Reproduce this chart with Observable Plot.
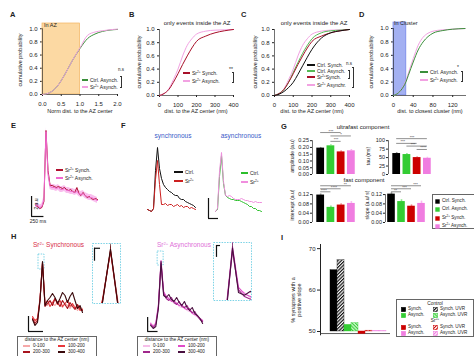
<!DOCTYPE html>
<html><head><meta charset="utf-8">
<script src="https://cdn.jsdelivr.net/npm/d3@7"></script>
<script src="https://cdn.jsdelivr.net/npm/@observablehq/plot@0.6"></script>
<style>
html,body{margin:0;padding:0;background:#fff;}
#root{position:relative;width:474px;height:356px;overflow:hidden;background:#fff;font-family:"Liberation Sans",Arial,Helvetica,sans-serif;color:#222;}
.t{position:absolute;white-space:nowrap;line-height:1;}
sup{font-size:0.65em;vertical-align:0.45em;line-height:0;}
.box{position:absolute;border:0.8px solid #666;box-sizing:border-box;background:#fff;}
</style></head><body>
<svg width="0" height="0" style="position:absolute">
<defs>
<pattern id="hatchK" patternUnits="userSpaceOnUse" width="2.4" height="2.4" patternTransform="rotate(45)"><rect width="2.4" height="2.4" fill="#fff"/><rect width="1.2" height="2.4" fill="#111"/></pattern>
<pattern id="hatchG" patternUnits="userSpaceOnUse" width="2.4" height="2.4" patternTransform="rotate(-45)"><rect width="2.4" height="2.4" fill="#c8f5c8"/><rect width="1.0" height="2.4" fill="#33cc33"/></pattern>
<pattern id="hatchR" patternUnits="userSpaceOnUse" width="2.4" height="2.4" patternTransform="rotate(45)"><rect width="2.4" height="2.4" fill="#fff"/><rect width="1.0" height="2.4" fill="#cc0000"/></pattern>
<pattern id="hatchP" patternUnits="userSpaceOnUse" width="2.4" height="2.4" patternTransform="rotate(45)"><rect width="2.4" height="2.4" fill="#fde3f7"/><rect width="1.0" height="2.4" fill="#f07de0"/></pattern>
</defs></svg>
<div id="root"></div>
<script>
// ---------------- DATA ----------------
// A: cumulative probability vs normalized distance to AZ center
const distA = [0, 0.2, 0.4, 0.6, 0.8, 1.0, 1.2, 1.4, 1.6, 1.8, 2.0];
const ctrlAsyncA = [0, 0.03, 0.13, 0.31, 0.52, 0.70, 0.85, 0.92, 0.96, 0.98, 0.99];
const srAsyncA = [0, 0.03, 0.13, 0.31, 0.52, 0.71, 0.90, 0.95, 0.97, 0.985, 0.995];
const azZoneA = [0, 1];
// B, C: only events inside the AZ (nm)
const distBC = [0, 25, 50, 75, 100, 125, 150, 175, 200, 250, 300, 350, 400];
const srSynchBC = [0, 0.03, 0.09, 0.20, 0.33, 0.47, 0.60, 0.72, 0.82, 0.90, 0.95, 0.98, 1.0];
const srAsyncBC = [0, 0.03, 0.10, 0.24, 0.40, 0.60, 0.76, 0.86, 0.93, 0.975, 0.99, 0.995, 1.0];
const ctrlSynchC = [0, 0.02, 0.06, 0.12, 0.20, 0.32, 0.45, 0.58, 0.70, 0.87, 0.95, 0.98, 1.0];
const ctrlAsyncC = [0, 0.03, 0.09, 0.20, 0.35, 0.50, 0.64, 0.76, 0.86, 0.95, 0.98, 0.99, 1.0];
// D: distance to closest cluster (nm)
const distD = [0, 10, 20, 25, 30, 40, 50, 60, 70, 80, 100, 120, 145];
const ctrlAsyncD = [0, 0.04, 0.13, 0.20, 0.30, 0.50, 0.68, 0.80, 0.88, 0.93, 0.97, 0.99, 1.0];
const srAsyncD = [0, 0.04, 0.14, 0.22, 0.33, 0.55, 0.75, 0.87, 0.93, 0.96, 0.98, 0.99, 1.0];
const clusterZoneD = [0, 26];
// E: average traces (a.u.)
const srSynchE = [0.0, -0.1, -0.3, -0.2, 0.4, 7.5, 3.5, 2.0, 2.0, 1.9, 1.8, 1.9, 1.8, 1.7, 1.8, 1.6, 1.5, 1.6, 1.4, 1.3, 1.8, 1.2, 1.0, 1.3, 1.0, 0.8, 0.9, 0.7, 0.6, 0.7, 0.6];
const srAsyncE = [0.0, 0.0, -0.2, -0.1, 0.6, 7.4, 3.2, 1.9, 1.8, 1.8, 1.7, 1.8, 1.6, 1.6, 1.7, 1.5, 1.5, 1.4, 1.4, 1.3, 1.4, 1.2, 1.1, 1.2, 1.0, 0.9, 0.8, 0.8, 0.7, 0.6, 0.5];
const semE = [0.25, 0.25, 0.25, 0.25, 0.3, 0.4, 0.35, 0.3, 0.3, 0.3, 0.3, 0.3, 0.3, 0.3, 0.3, 0.3, 0.3, 0.3, 0.3, 0.3, 0.3, 0.3, 0.3, 0.3, 0.3, 0.3, 0.3, 0.3, 0.3, 0.3, 0.3];
// F: synchronous / asynchronous traces
const ctrlSynchF = [0.0, -0.1, -0.2, 0.1, 3.9, 6.2, 4.1, 3.1, 2.5, 2.2, 2.0, 1.8, 1.7, 1.5, 1.4, 1.4, 1.1, 1.0, 1.0, 0.8, 0.7, 0.6, 0.5, 0.4, 0.2];
const srSynchF = [0.0, -0.1, -0.2, 0.1, 3.0, 4.9, 2.5, 0.5, 0.5, 0.6, 0.4, 0.5, 0.5, 0.3, 0.4, 0.5, 0.3, 0.4, 0.2, 0.3, 0.3, 0.1, 0.2, 0.1, 0.0];
const ctrlAsyncF = [0.0, 0.2, 3.5, 5.6, 2.8, 1.6, 1.4, 1.3, 1.2, 1.2, 1.1, 1.1, 1.1, 1.0, 0.9, 0.8, 0.7, 0.5, 0.5, 0.3, 0.3, 0.1, 0.1, 0.0];
const srAsyncF = [0.0, 0.3, 4.0, 5.9, 3.0, 1.6, 1.5, 1.6, 1.5, 1.3, 1.2, 1.2, 1.2, 1.3, 1.2, 1.1, 1.1, 1.0, 1.0, 0.9, 1.0, 0.9, 0.9, 0.9];
// G: bar values
const groupsG = ["Ctrl. Synch.", "Ctrl. Asynch.", "Sr2+ Synch.", "Sr2+ Asynch."];
const amplitudeG = [0.195, 0.212, 0.167, 0.175];
const amplitudeErr = [0.005, 0.007, 0.006, 0.010];
const tauG = [62, 59, 50, 48];
const tauErr = [2, 3, 2, 3];
const interceptG = [0.118, 0.065, 0.075, 0.082];
const interceptErr = [0.004, 0.006, 0.005, 0.008];
const slopeG = [0.122, 0.090, 0.070, 0.082];
const slopeErr = [0.005, 0.008, 0.005, 0.010];
// significance brackets: a, b = compared groups, y = level, tx = label position (group units)
const sigAmp = [{a: 1, b: 3, y: 0.31, s: "***", tx: 2}, {a: 2, b: 4, y: 0.285, s: "*", tx: 3}, {a: 2, b: 3, y: 0.245, s: "***", tx: 2.5}];
const sigTau = [{a: 1, b: 4, y: 106, s: "***", tx: 2.5}, {a: 1, b: 3, y: 92, s: "***", tx: 1.6}, {a: 2, b: 4, y: 84, s: "***", tx: 2.6}, {a: 3, b: 4, y: 74, s: "****", tx: 3.6}];
const sigIntercept = [{a: 1, b: 4, y: 0.158, s: "**", tx: 3.4}, {a: 1, b: 3, y: 0.145, s: "****", tx: 2.3}, {a: 1, b: 2, y: 0.132, s: "****", tx: 1.3}];
const sigSlope = [{a: 1, b: 4, y: 0.158, s: "***", tx: 3.4}, {a: 1, b: 3, y: 0.145, s: "***", tx: 2.3}, {a: 1, b: 2, y: 0.132, s: "**", tx: 1.4}];
// H: traces by distance to the AZ center
const binsH = ["0-100", "100-200", "200-300", "300-400"];
const hSynch = [
  [0.3, -0.1, 0.1, 2.1, 5.8, 1.8, 1.5, 1.9, 1.7, 1.5, 1.9, 1.6, 1.3, 1.7, 1.5, 1.2, 1.6, 1.4, 1.0, 1.3, 1.2],
  [0.4, 0.0, 0.2, 2.2, 5.7, 1.6, 2.0, 1.4, 1.8, 2.2, 1.6, 2.0, 1.4, 1.7, 2.0, 1.4, 1.7, 1.2, 1.5, 1.0, 1.1],
  [0.2, -0.3, 0.0, 2.0, 5.8, 1.4, 1.7, 2.0, 1.5, 2.2, 1.8, 1.4, 2.0, 1.6, 1.2, 1.8, 1.4, 1.1, 1.6, 1.2, 1.0],
  [0.1, -0.5, -0.2, 2.0, 5.9, 1.5, 2.0, 2.3, 2.7, 2.3, 1.7, 2.2, 2.8, 2.5, 1.8, 2.4, 2.8, 2.0, 1.2, 1.5, 0.8]
];
const hAsynch = [
  [0.1, -0.2, 0.1, 2.0, 5.9, 3.0, 2.8, 2.4, 2.3, 2.0, 2.1, 1.7, 1.6, 1.7, 1.3, 1.2, 1.1, 0.8, 0.7, 0.4, 0.3],
  [0.0, -0.3, 0.0, 1.8, 6.3, 3.2, 2.7, 2.5, 2.2, 2.3, 2.0, 1.8, 1.9, 1.5, 1.4, 1.5, 1.0, 0.9, 0.8, 0.5, 0.3],
  [-0.1, -0.4, -0.1, 1.7, 6.0, 3.0, 2.5, 2.3, 2.6, 2.1, 1.9, 2.2, 1.7, 1.6, 1.8, 1.3, 1.1, 1.2, 0.7, 0.4, 0.2],
  [-0.2, -0.5, -0.3, 1.5, 6.2, 2.8, 2.6, 2.9, 2.4, 2.2, 2.6, 2.1, 1.8, 2.2, 1.6, 1.3, 1.6, 1.0, 0.8, 0.5, 0.0]
];
const peakErrH = [0.35, 0.3, 0.3, 0.35];
// I: % synapses with a positive slope
const categoriesI = ["Ctrl Synch.", "Ctrl Synch. UVR", "Ctrl Asynch.", "Ctrl Asynch. UVR", "Sr Synch.", "Sr Synch. UVR", "Sr Asynch.", "Sr Asynch. UVR"];
const valuesI = [64.8, 67.2, 51.6, 52.0, 49.4, 50.2, 50.1, 50.1];
// tick labels
const ticksProb = [0, 0.2, 0.4, 0.6, 0.8, 1.0];
const ticksA = [0, 0.5, 1.0, 1.5, 2.0];
const ticksBC = [0, 100, 200, 300, 400];
const ticksD = [0, 40, 80, 120];
const ticksAmp = [0, 0.05, 0.10, 0.15, 0.20, 0.25];
const ticksTau = [0, 25, 50, 75, 100];
const ticksFast = [0, 0.04, 0.08, 0.12];
const ticksI = [50, 60, 70];

// ---------------- STYLES ----------------
const FONT = '"Liberation Sans", Arial, Helvetica, sans-serif';
const C = {black: "#111111", green: "#3a8f3a", greenC: "#55bb55", pink: "#f2a2e2", red: "#a8102a",
  redF: "#cc2020", greenF: "#2cbf2c", pinkF: "#f08ede", redE: "#b01030", pinkE: "#f06ad0", bandE: "#f8b8ec",
  blueTitle: "#3a5bc8"};
const fillsG = ["#000000", "#33cc33", "#cc0000", "#f07de0"];
const errG = ["#666666", "#8ee88e", "#ee6060", "#f8b8f0"];
const colorsHSynch = ["#f6a9a9", "#e8383c", "#a8141e", "#3a0a0c"];
const colorsHAsynch = ["#f6bfe9", "#e04cc8", "#a0288c", "#4a1040"];
const fillsI = ["#000000", "url(#hatchK)", "#33cc33", "url(#hatchG)", "#cc0000", "url(#hatchR)", "#f07de0", "url(#hatchP)"];
const strokesI = ["#000000", "#222222", "#33cc33", "#33cc33", "#cc0000", "#cc0000", "#f07de0", "#f07de0"];

const root = document.getElementById("root");

function mk(opts, left, top, fs = 6) {
  const svg = Plot.plot({...opts, style: {background: "none", fontSize: fs + "px", fontFamily: FONT, color: "#222", overflow: "visible"}});
  svg.style.position = "absolute";
  svg.style.left = left + "px";
  svg.style.top = top + "px";
  root.appendChild(svg);
  return svg;
}
function T(html, x, y, o = {}) {
  const d = document.createElement("div");
  d.className = "t";
  d.innerHTML = html;
  d.style.fontSize = (o.size ?? 6) + "px";
  d.style.color = o.color ?? "#222";
  if (o.bold) d.style.fontWeight = "bold";
  d.style.left = x + "px";
  d.style.top = y + "px";
  const ax = o.anchor === "middle" ? "-50%" : o.anchor === "end" ? "-100%" : "0";
  d.style.transform = `translate(${ax}, -50%)` + (o.rotate ? ` rotate(${o.rotate}deg)` : "");
  if (o.align) d.style.textAlign = o.align;
  root.appendChild(d);
}
function L(x1, x2, y, color, w = 1.2) {
  const d = document.createElement("div");
  Object.assign(d.style, {position: "absolute", left: x1 + "px", top: (y - w / 2) + "px", width: (x2 - x1) + "px", height: w + "px", background: color});
  root.appendChild(d);
}
function BR(x, y1, y2) {
  const d = document.createElement("div");
  Object.assign(d.style, {position: "absolute", left: (x - 2) + "px", top: y1 + "px", width: "2px", height: (y2 - y1) + "px",
    border: "0.7px solid #333", borderLeft: "none", boxSizing: "border-box"});
  root.appendChild(d);
}
function BOX(x, y, w, h) {
  const d = document.createElement("div");
  d.className = "box";
  Object.assign(d.style, {left: x + "px", top: y + "px", width: w + "px", height: h + "px"});
  root.appendChild(d);
}
function SQ(x, y, s, fill, stroke) {
  const d = document.createElement("div");
  Object.assign(d.style, {position: "absolute", left: x + "px", top: (y - s / 2) + "px", width: s + "px", height: s + "px", lineHeight: 0});
  d.innerHTML = `<svg width="${s}" height="${s}"><rect x="0.3" y="0.3" width="${s - 0.6}" height="${s - 0.6}" fill="${fill}" stroke="${stroke || "none"}" stroke-width="0.5"/></svg>`;
  root.appendChild(d);
}
const pts = (xs, ys) => xs.map((x, i) => ({x, y: ys[i]}));
const ser = (vals) => vals.map((v, i) => ({i, v}));
const SR = "Sr<sup>2+</sup>";

// ---------------- CDF PANELS ----------------
function cdf({left, top, width, height, mL, mR, mT, mB, xDomain, yDomain, xTicks, xFmt, zone, zoneFill, zoneStroke, curves}) {
  const marks = [];
  if (zone) marks.push(Plot.rect([zone], {x1: d => d[0], x2: d => d[1], fill: zoneFill, stroke: zoneStroke, strokeWidth: 0.7}));
  marks.push(Plot.ruleY([0], {stroke: "#333", strokeWidth: 0.7}));
  marks.push(Plot.ruleX([0], {y1: 0, y2: 1, stroke: "#333", strokeWidth: 0.7}));
  for (const c of curves) marks.push(Plot.line(pts(c.x, c.y), {x: "x", y: "y", stroke: c.color, strokeWidth: 1, curve: "monotone-x"}));
  return mk({
    width, height, marginLeft: mL, marginRight: mR, marginTop: mT, marginBottom: mB,
    x: {domain: xDomain, ticks: xTicks, tickFormat: xFmt, tickSize: 2, tickPadding: 5, label: null},
    y: {domain: yDomain, ticks: ticksProb, tickFormat: ".1f", tickSize: 2, tickPadding: 3, label: null},
    marks
  }, left, top);
}

cdf({left: 0, top: 10, width: 124, height: 108, mL: 42, mR: 7, mT: 13, mB: 24, xDomain: [0, 2], yDomain: [0, 1.08],
  xTicks: ticksA, xFmt: ".1f", zone: azZoneA, zoneFill: "#fcd9a3", zoneStroke: "#f2b45e",
  curves: [{x: distA, y: ctrlAsyncA, color: C.green}, {x: distA, y: srAsyncA, color: C.pink}]});
cdf({left: 125, top: 20, width: 112, height: 100, mL: 34, mR: 4, mT: 9, mB: 25, xDomain: [0, 400], yDomain: [0, 1],
  xTicks: ticksBC, xFmt: "d",
  curves: [{x: distBC, y: srAsyncBC, color: C.pink}, {x: distBC, y: srSynchBC, color: C.red}]});
cdf({left: 240, top: 20, width: 112, height: 100, mL: 34, mR: 3, mT: 9, mB: 25, xDomain: [0, 400], yDomain: [0, 1],
  xTicks: ticksBC, xFmt: "d",
  curves: [{x: distBC, y: srAsyncBC, color: C.pink}, {x: distBC, y: ctrlAsyncC, color: C.greenC},
           {x: distBC, y: srSynchBC, color: C.red}, {x: distBC, y: ctrlSynchC, color: C.black}]});
cdf({left: 358, top: 20, width: 114, height: 100, mL: 35, mR: 6, mT: 2, mB: 25, xDomain: [0, 148], yDomain: [0, 1.09],
  xTicks: ticksD, xFmt: "d", zone: clusterZoneD, zoneFill: "#a3b0f2", zoneStroke: "#6d7fe6",
  curves: [{x: distD, y: srAsyncD, color: C.pink}, {x: distD, y: ctrlAsyncD, color: C.green}]});

// Panel texts A-D
T("A", 10, 15, {size: 7.5, bold: true}); T("B", 129, 15, {size: 7.5, bold: true});
T("C", 241, 15, {size: 7.5, bold: true}); T("D", 359, 15, {size: 7.5, bold: true});
T("In AZ", 44, 26, {size: 5.5});
T("cumulative probability", 21, 60, {size: 5.5, anchor: "middle", rotate: -90});
T("Norm dist. to the AZ center", 80, 112, {size: 5.5, anchor: "middle"});
L(82, 88, 80, C.green); T("Ctrl. Asynch.", 90, 80, {size: 5});
L(82, 88, 87, C.pink); T(SR + " Asynch.", 90, 87, {size: 5});
T("n.s", 118, 70, {size: 4.5}); BR(122, 76, 88);

T("only events inside the AZ", 197, 23, {size: 6, anchor: "middle"});
T("cumulative probability", 140, 62, {size: 5.5, anchor: "middle", rotate: -90});
T("dist. to the AZ center (nm)", 196, 112, {size: 5.5, anchor: "middle"});
L(183, 190, 73, C.red); T(SR + " Synch.", 192, 73, {size: 5});
L(183, 190, 81, C.pink); T(SR + " Asynch.", 192, 81, {size: 5});
T("**", 229, 69, {size: 5}); BR(234, 72, 83);

T("only events inside the AZ", 314, 23, {size: 6, anchor: "middle"});
T("cumulative probability", 256, 62, {size: 5.5, anchor: "middle", rotate: -90});
T("dist. to the AZ center (nm)", 312, 112, {size: 5.5, anchor: "middle"});
L(307, 315, 65, C.black); T("Ctrl. Synch.", 317, 65, {size: 5});
L(307, 315, 71, C.greenC); T("Ctrl. Asynch.", 317, 71, {size: 5});
L(307, 315, 77, C.red); T(SR + "Synch.", 317, 77, {size: 5});
L(307, 315, 85, C.pink); T(SR + " Asynchr.", 317, 85, {size: 5});
T("n.s", 346, 64, {size: 4.5}); BR(350, 70, 79); BR(354, 67, 88);

T("In Cluster", 394, 24, {size: 5.5});
T("cumulative probability", 372, 62, {size: 5.5, anchor: "middle", rotate: -90});
T("dist. to closest cluster (nm)", 430, 112, {size: 5.5, anchor: "middle"});
L(420, 428, 72, C.green); T("Ctrl. Asynch.", 430, 72, {size: 5});
L(420, 428, 80, C.pink); T(SR + " Asynch.", 430, 80, {size: 5});
T("*", 457, 67, {size: 5}); BR(463, 71, 82);

// ---------------- E ----------------
const eSynch = ser(srSynchE), eAsync = srAsyncE.map((v, i) => ({i, v, e: semE[i]}));
mk({width: 68, height: 100, margin: 0, x: {domain: [-3, 30], axis: null}, y: {domain: [-1.5, 8.5], axis: null},
  marks: [
    Plot.areaY(eAsync, {x: "i", y1: d => d.v - d.e, y2: d => d.v + d.e, fill: C.bandE, fillOpacity: 0.9}),
    Plot.line(eSynch, {x: "i", y: "v", stroke: C.redE, strokeWidth: 1}),
    Plot.line(eAsync, {x: "i", y: "v", stroke: C.pinkE, strokeWidth: 1}),
    Plot.ruleX([-2], {y1: -1.1, y2: 0.9, stroke: "#111", strokeWidth: 1.2}),
    Plot.ruleY([-1.1], {x1: -2, x2: 4, stroke: "#111", strokeWidth: 1.2})
  ]}, 29, 120);
T("E", 11, 126, {size: 7.5, bold: true});
L(56, 63, 170, C.redE); T(SR + " Synch.", 65, 170, {size: 5});
L(56, 63, 178, C.pinkE, 2); T(SR + " Asynch.", 65, 178, {size: 5});
T("2 a.u", 35.5, 204, {size: 5, anchor: "middle", rotate: -90});
T("250 ms", 38, 221, {size: 5, anchor: "middle"});

// ---------------- F ----------------
mk({width: 48, height: 80, margin: 0, x: {domain: [0, 24], axis: null}, y: {domain: [-1.1, 6.9], axis: null},
  marks: [
    Plot.line(ser(ctrlSynchF), {x: "i", y: "v", stroke: C.black, strokeWidth: 1}),
    Plot.line(ser(srSynchF), {x: "i", y: "v", stroke: C.redF, strokeWidth: 1})
  ]}, 147, 140);
mk({width: 54, height: 82, margin: 0, x: {domain: [-4, 23], axis: null}, y: {domain: [-1.1, 7.1], axis: null},
  marks: [
    Plot.line(ser(ctrlAsyncF), {x: "i", y: "v", stroke: C.greenF, strokeWidth: 1}),
    Plot.line(ser(srAsyncF), {x: "i", y: "v", stroke: C.pinkF, strokeWidth: 1}),
    Plot.ruleX([-3.5], {y1: -0.7, y2: 1.3, stroke: "#111", strokeWidth: 1.2}),
    Plot.ruleY([-0.7], {x1: -3.5, x2: 1.5, stroke: "#111", strokeWidth: 1.2})
  ]}, 207, 140);
T("F", 121, 126, {size: 7.5, bold: true});
T("synchronous", 173, 136, {size: 6.5, anchor: "middle", color: C.blueTitle});
T("asynchronous", 241, 136, {size: 6.5, anchor: "middle", color: C.blueTitle});
L(174, 183, 172, C.black); T("Ctrl.", 185, 172, {size: 5});
L(174, 183, 181, C.redF); T(SR, 185, 181, {size: 5});
L(241, 248, 173, C.greenF); T("Ctrl.", 250, 173, {size: 5});
L(241, 248, 182, C.pinkF); T(SR, 250, 182, {size: 5});

// ---------------- G ----------------
function bars({left, top, width, height, mL, mR, mT, mB, xDomain, yDomain, ticks, fmt, values, errs, sig}) {
  const rows = values.map((v, k) => ({i: k + 1, v, e: errs[k], k}));
  const marks = [Plot.ruleX([xDomain[0]], {y1: ticks[0], y2: ticks[ticks.length - 1], stroke: "#333", strokeWidth: 0.7})];
  rows.forEach(r => {
    marks.push(Plot.ruleX([r], {x: "i", y1: "v", y2: d => d.v + d.e, stroke: errG[r.k], strokeWidth: 1.6}));
    marks.push(Plot.rectY([r], {x1: d => d.i - 0.38, x2: d => d.i + 0.38, y: "v", fill: fillsG[r.k]}));
  });
  marks.push(Plot.ruleY(sig, {x1: "a", x2: "b", y: "y", stroke: "#444", strokeWidth: 0.6}));
  marks.push(Plot.text(sig, {x: "tx", y: "y", text: "s", dy: -1.3, fontSize: 4, fill: "#333"}));
  return mk({width, height, marginLeft: mL, marginRight: mR, marginTop: mT, marginBottom: mB,
    x: {domain: xDomain, axis: null},
    y: {domain: yDomain, ticks, tickFormat: fmt, tickSize: 2, tickPadding: 1.5, label: null},
    marks}, left, top, 5.5);
}
bars({left: 282, top: 124, width: 78, height: 56, mL: 30, mR: 3, mT: 4, mB: 6, xDomain: [0.2, 4.6], yDomain: [0, 0.34],
  ticks: ticksAmp, fmt: ".2f", values: amplitudeG, errs: amplitudeErr, sig: sigAmp});
bars({left: 358, top: 124, width: 78, height: 56, mL: 30, mR: 3, mT: 4, mB: 6, xDomain: [0.2, 4.6], yDomain: [0, 136],
  ticks: ticksTau, fmt: "d", values: tauG, errs: tauErr, sig: sigTau});
bars({left: 282, top: 178, width: 78, height: 50, mL: 30, mR: 3, mT: 4, mB: 6, xDomain: [0.2, 4.6], yDomain: [0, 0.172],
  ticks: ticksFast, fmt: ".2f", values: interceptG, errs: interceptErr, sig: sigIntercept});
bars({left: 355, top: 178, width: 76, height: 50, mL: 30, mR: 3, mT: 4, mB: 6, xDomain: [0.4, 4.7], yDomain: [0, 0.172],
  ticks: ticksFast, fmt: ".2f", values: slopeG, errs: slopeErr, sig: sigSlope});
T("G", 281, 127, {size: 7.5, bold: true});
T("ultrafast component", 363, 127, {size: 6, anchor: "middle"});
T("fast component", 364, 180, {size: 6, anchor: "middle"});
T("amplitude (a.u)", 292, 156, {size: 5, anchor: "middle", rotate: -90});
T("tau (ms)", 368, 156, {size: 5, anchor: "middle", rotate: -90});
T("intercept (a.u)", 292, 205, {size: 5, anchor: "middle", rotate: -90});
T("slope (a.u/ s)", 367, 205, {size: 5, anchor: "middle", rotate: -90});
BOX(432, 194, 43, 35);
const legG = ["Ctrl. Synch.", "Ctrl. Asynch.", SR + " Synch.", SR + " Asynch."];
[201, 209, 218, 226].forEach((y, k) => { SQ(435, y, 5, fillsG[k]); T(legG[k], 442, y, {size: 4.6}); });

// ---------------- H ----------------
function hTrace({left, top, width, height, xDomain, yDomain, data, colors, win, bar}) {
  const marks = [Plot.rect([win], {x1: "x1", x2: "x2", y1: "y1", y2: "y2", fill: "none", stroke: "#5bc8e0", strokeWidth: 0.8, strokeDasharray: "1.5,1.2"})];
  data.forEach((vals, k) => marks.push(Plot.line(ser(vals), {x: "i", y: "v", stroke: colors[k], strokeWidth: 1.1})));
  marks.push(Plot.ruleX([bar.x], {y1: bar.y, y2: bar.y + bar.dv, stroke: "#111", strokeWidth: 1.2}));
  marks.push(Plot.ruleY([bar.y], {x1: bar.x, x2: bar.x + bar.dt, stroke: "#111", strokeWidth: 1.2}));
  mk({width, height, margin: 0, x: {domain: xDomain, axis: null}, y: {domain: yDomain, axis: null}, marks}, left, top);
}
function hInset({left, top, width, height, xDomain, yDomain, data, colors, bar}) {
  const marks = [Plot.frame({stroke: "#5bc8e0", strokeWidth: 0.8, strokeDasharray: "1.5,1.2"})];
  data.forEach((vals, k) => {
    const s = ser(vals).slice(2, 9);
    marks.push(Plot.line(s, {x: "i", y: "v", stroke: colors[k], strokeWidth: 1.1, clip: true}));
    marks.push(Plot.ruleX([s[2]], {x: "i", y1: "v", y2: d => d.v + peakErrH[k], stroke: colors[k], strokeWidth: 0.6}));
  });
  marks.push(Plot.ruleX([bar.x], {y1: bar.y - bar.dv, y2: bar.y, stroke: "#111", strokeWidth: 1.2}));
  marks.push(Plot.ruleY([bar.y], {x1: bar.x, x2: bar.x + bar.dt, stroke: "#111", strokeWidth: 1.2}));
  mk({width, height, margin: 0, x: {domain: xDomain, axis: null}, y: {domain: yDomain, axis: null}, marks}, left, top);
}
hTrace({left: 26, top: 250, width: 60, height: 83, xDomain: [-2.4, 21.6], yDomain: [-1.3, 7.0], data: hSynch, colors: colorsHSynch,
  win: {x1: 2.4, x2: 4.8, y1: 5.1, y2: 6.6}, bar: {x: -1.6, y: -1.1, dv: 1.5, dt: 6}});
hTrace({left: 147, top: 250, width: 58, height: 83, xDomain: [-1.2, 21.1], yDomain: [-1.0, 7.3], data: hAsynch, colors: colorsHAsynch,
  win: {x1: 2.7, x2: 5.0, y1: 5.8, y2: 7.2}, bar: {x: -1.15, y: -0.8, dv: 1.4, dt: 4}});
hInset({left: 92, top: 243, width: 28, height: 60, xDomain: [1.75, 5.25], yDomain: [1.9, 6.3], data: hSynch, colors: colorsHSynch,
  bar: {x: 2.0, y: 5.95, dv: 0.95, dt: 0.75}});
hInset({left: 213, top: 242, width: 38, height: 58, xDomain: [0.83, 7.17], yDomain: [2.2, 6.6], data: hAsynch, colors: colorsHAsynch,
  bar: {x: 1.33, y: 6.37, dv: 0.9, dt: 0.67}});
T("H", 11, 237, {size: 7.5, bold: true});
T(SR + " Synchronous", 33, 245, {size: 6.5, color: "#d8304a"});
T(SR + " Asynchronous", 157, 245, {size: 6.5, color: "#e070d8"});
function hLegend(x0, colors) {
  BOX(x0, 336, 80, 24);
  T("distance to the AZ center (nm)", x0 + 40, 340, {size: 4.8, anchor: "middle"});
  L(x0 + 6, x0 + 13, 346, colors[0]); T(binsH[0], x0 + 16, 346, {size: 4.6});
  L(x0 + 41, x0 + 48, 346, colors[1]); T(binsH[1], x0 + 51, 346, {size: 4.6});
  L(x0 + 6, x0 + 13, 352, colors[2]); T(binsH[2], x0 + 16, 352, {size: 4.6});
  L(x0 + 41, x0 + 48, 352, colors[3]); T(binsH[3], x0 + 51, 352, {size: 4.6});
}
hLegend(17, colorsHSynch);
hLegend(137, colorsHAsynch);

// ---------------- I ----------------
const rowsI = categoriesI.map((c, k) => ({c, v: valuesI[k], k}));
const marksI = [Plot.ruleY([49.5], {stroke: "#333", strokeWidth: 0.8})];
rowsI.forEach(r => marksI.push(Plot.barY([r], {x: "c", y1: 50, y2: "v", fill: fillsI[r.k], stroke: strokesI[r.k], strokeWidth: 0.4})));
mk({width: 96, height: 91, marginLeft: 24, marginRight: 2, marginTop: 0, marginBottom: 0.7,
  x: {type: "band", domain: categoriesI, range: [30, 93], paddingInner: 0.04, paddingOuter: 0, axis: null},
  y: {domain: [49.2, 71], ticks: ticksI, tickFormat: "d", tickSize: 3, tickPadding: 2, line: true, label: null},
  marks: marksI}, 296, 244);
T("I", 281, 238, {size: 7.5, bold: true});
T("% synapses with a<br>positive slope", 296, 300, {size: 5.5, anchor: "middle", rotate: -90, align: "center"});
BOX(396, 299, 78, 38);
T("Control", 435, 304, {size: 4.8, anchor: "middle"});
T(SR, 435, 321, {size: 4.8, anchor: "middle"});
const legI = [["Synch.", 309, 0], ["Synch. UVR", 309, 1], ["Asynch.", 315, 2], ["Asynch. UVR", 315, 3],
              ["Synch.", 327, 4], ["Synch. UVR", 327, 5], ["Asynch.", 333, 6], ["Asynch. UVR", 333, 7]];
legI.forEach(([t, y, k]) => { const x = k % 2 === 0 ? 401 : 433; SQ(x, y, 5, fillsI[k], strokesI[k]); T(t, x + 7, y, {size: 4.6}); });
</script>
</body></html>
